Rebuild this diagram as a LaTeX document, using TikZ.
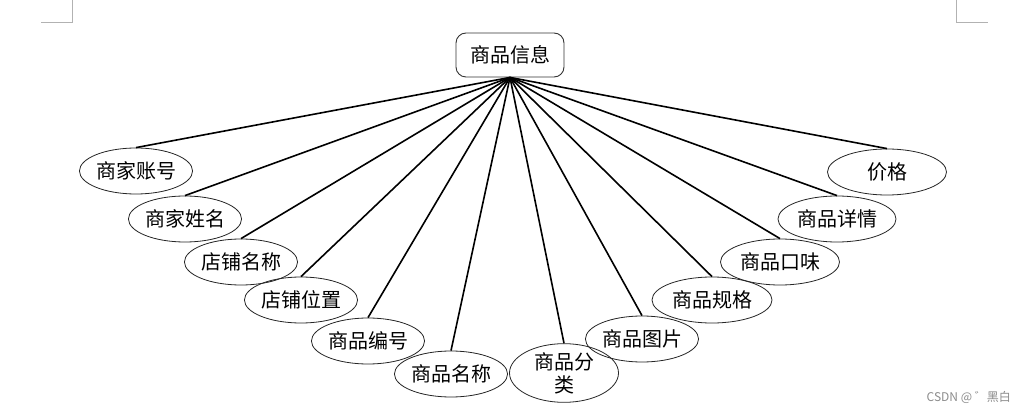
\documentclass[tikz,border=0pt]{standalone}
\usepackage{fontspec}
\setmainfont{Noto Sans CJK SC}
\usetikzlibrary{shapes.geometric}
\begin{document}
\begin{tikzpicture}[x=1pt,y=-1pt,
  attr/.style={ellipse,draw=black!85,line width=0.8pt,inner sep=0pt,minimum height=46pt,font=\fontsize{20}{23}\selectfont},
  topbox/.style={draw=black!80,line width=0.9pt,rounded corners=10pt,minimum width=108pt,minimum height=44pt,inner sep=0pt,font=\fontsize{20}{23}\selectfont},
  conn/.style={line width=1.6pt,black}]
\useasboundingbox (0,0) rectangle (1025,414);
\fill[white] (0,0) rectangle (1025,414);
% corner marks
\draw[black!30,line width=0.8pt] (72,0) -- (72,22) -- (41,22);
\draw[black!30,line width=0.8pt] (956,0) -- (956,22) -- (988,22);
% top node
\node[topbox] (top) at (510,55) {商品信息};
% attribute ellipses
\node[attr,minimum width=108pt] (a1) at (136,171) {商家账号};
\node[attr,minimum width=110pt] (a2) at (185,219) {商家姓名};
\node[attr,minimum width=110pt] (a3) at (241,262) {店铺名称};
\node[attr,minimum width=110pt] (a4) at (301,300) {店铺位置};
\node[attr,minimum width=110pt] (a5) at (368,341) {商品编号};
\node[attr,minimum width=109pt] (a6) at (451,374) {商品名称};
\node[attr,minimum width=109pt,align=center] (a7) at (564,373) {商品分\\类};
\node[attr,minimum width=108pt] (a8) at (642,339) {商品图片};
\node[attr,minimum width=120pt] (a9) at (712,300) {商品规格};
\node[attr,minimum width=119pt] (a10) at (780,262) {商品口味};
\node[attr,minimum width=118pt] (a11) at (837,219) {商品详情};
\node[attr,minimum width=119pt] (a12) at (887,172) {价格};
% connectors
\foreach \n in {a1,a2,a3,a4,a5,a6,a7,a8,a9,a10,a11,a12}
  \draw[conn] (top.south) -- (\n.north);
% watermark
\node[font=\fontsize{12}{14}\selectfont,text=black!45,anchor=east,inner sep=0pt] (wm) at (1011,397) {CSDN @ ゛黑白};
\end{tikzpicture}
\end{document}
